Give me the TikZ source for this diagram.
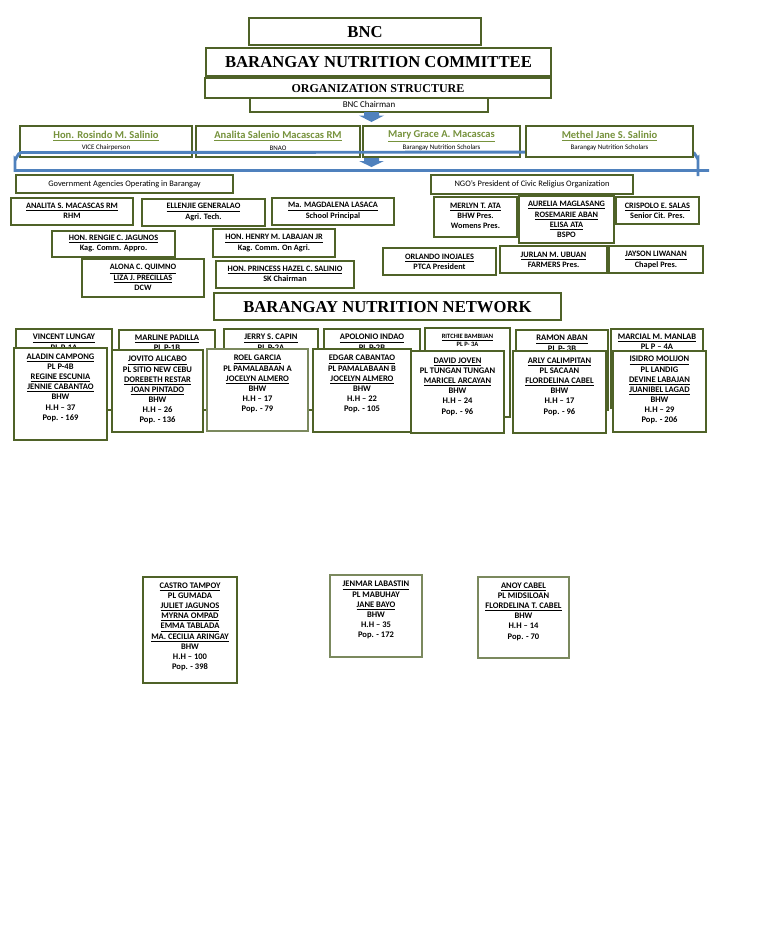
\documentclass[tikz,border=0pt]{standalone}
\usepackage{fontspec}
\setmainfont{Liberation Serif}
\setsansfont{Carlito}
\usepackage{tikz}
\usetikzlibrary{positioning}

\definecolor{boxgreen}{RGB}{79,98,40}
\definecolor{namegreen}{RGB}{118,146,60}
\definecolor{bnsblue}{RGB}{79,129,189}

\tikzset{
  box/.style={draw=boxgreen, line width=1.5pt, fill=white},
  thinbox/.style={draw=boxgreen!75, line width=0.9pt, fill=white},
  title/.style={inner sep=0.75pt, font=\bfseries\fontsize{12.5}{15}\selectfont},
  subtitle/.style={inner sep=0.75pt, font=\bfseries\fontsize{9}{11}\selectfont},
  chairtext/.style={inner sep=0.75pt, font=\sffamily\fontsize{6.7}{8}\selectfont},
  officer/.style={inner sep=0.75pt, text=namegreen, font=\sffamily\bfseries\fontsize{7.9}{9.5}\selectfont},
  role/.style={inner sep=0.75pt, font=\sffamily\fontsize{5.2}{6.2}\selectfont},
  header/.style={inner sep=0.75pt, font=\sffamily\fontsize{6.3}{7.5}\selectfont},
  member/.style={inner sep=0.75pt, align=center, font=\sffamily\bfseries\fontsize{6.2}{7.7}\selectfont},
  purok/.style={inner sep=0.75pt, align=center, anchor=north, font=\sffamily\bfseries\fontsize{6.4}{7.6}\selectfont},
  purokfine/.style={purok, font=\sffamily\bfseries\fontsize{4.9}{6.2}\selectfont},
  bracket/.style={draw=bnsblue, line width=2.2pt},
  blockarrow/.style={fill=bnsblue, draw=none},
}

\begin{document}
\begin{tikzpicture}[x=0.75pt,y=0.75pt,yscale=-1,xscale=1]
\useasboundingbox (0,0) rectangle (768,932);

% BNC Chairman box, behind the titles
\draw[box] (250,77) rectangle (488,112);
\node[chairtext] (chairman) at (369,104) {BNC Chairman};
% Titles
\draw[box] (249,18) rectangle (481,45);
\node[title] (bnc) at (365,32) {BNC};
\draw[box] (206,48) rectangle (551,76);
\node[title] (bnc-title) at (378.5,62.5) {BARANGAY NUTRITION COMMITTEE};
\draw[box] (205,78) rectangle (551,98);
\node[subtitle] (org) at (378,88.5) {ORGANIZATION STRUCTURE};
% Arrow
\fill[blockarrow] (364,112) -- (379,112) -- (379,115.5) -- (384,115.5) -- (371.5,122) -- (359,115.5) -- (364,115.5) -- cycle;

% Officers
\draw[box] (20,126) rectangle (192,157);
\node[officer] (vice) at (106,136) {\underline{Hon. Rosindo M. Salinio}};
\node[role] (vice-r) at (106,148) {VICE Chairperson};
\draw[box] (196,126) rectangle (360,157);
\node[officer] (bnao) at (278,136) {\underline{Analita Salenio Macascas RM}};
\node[role] (bnao-r) at (278,148) {BNAO};
\draw[box] (363,126) rectangle (520,157);
\node[officer] (bns1) at (441.5,136) {\underline{Mary Grace A. Macascas}};
\node[role] (bns1-r) at (441.5,148) {Barangay Nutrition Scholars};
% Bracket
\draw[bracket] (709,170.5) -- (15,170.5) -- (15,159) to[out=90,in=180] (21,152.5) -- (692,152) to[out=0,in=90] (698,158) -- (698,176);
\draw[box] (526,126) rectangle (693,157);
\node[officer] (bns2) at (609.5,136) {\underline{Methel Jane S. Salinio}};
\node[role] (bns2-r) at (609.5,148) {Barangay Nutrition Scholars};
% Arrow
\fill[blockarrow] (364,158) -- (379,158) -- (379,161) -- (384,161) -- (371.5,167) -- (359,161) -- (364,161) -- cycle;

% Headers
\draw[box] (16,175) rectangle (233,193);
\node[header] (gov) at (124.5,184) {Government Agencies Operating in Barangay};
\draw[box] (431,175) rectangle (633,194);
\node[header] (ngo) at (532,184.5) {NGO's President of Civic Religius Organization};

% Government agencies
\draw[box] (11,198) rectangle (133,225);
\node[member] (rhm) at (72,211) {\underline{ANALITA S. MACASCAS RM}\\RHM};
\draw[box] (142,199) rectangle (265,226);
\node[member] (agri) at (203.5,212) {\underline{ELLENJIE GENERALAO}\\Agri. Tech.};
\draw[box] (272,198) rectangle (394,225);
\node[member] (principal) at (333,211) {\underline{Ma. MAGDALENA LASACA}\\School Principal};
\draw[box] (52,231) rectangle (175,257);
\node[member] (appro) at (113.5,243.5) {\underline{HON. RENGIE C. JAGUNOS}\\Kag. Comm. Appro.};
\draw[box] (213,229) rectangle (335,257);
\node[member] (kagagri) at (274,243) {\underline{HON. HENRY M. LABAJAN JR}\\Kag. Comm. On Agri.};
\draw[box] (82,259) rectangle (204,297);
\node[member] (dcw) at (143,277.5) {\underline{ALONA C. QUIMNO}\\\underline{LIZA J. PRECILLAS}\\DCW};
\draw[box] (216,261) rectangle (354,288);
\node[member] (sk) at (285,273.5) {\underline{HON. PRINCESS HAZEL C. SALINIO}\\SK Chairman};

% NGO presidents
\draw[box] (434,197) rectangle (517,237);
\node[member] (bhwpres) at (475.5,216) {\underline{MERLYN T. ATA}\\BHW Pres.\\Womens Pres.};
\draw[box] (519,196) rectangle (614,243);
\node[member] (bspo) at (566.5,219.5) {\underline{AURELIA MAGLASANG}\\\underline{ROSEMARIE ABAN}\\\underline{ELISA ATA}\\BSPO};
\draw[box] (616,197) rectangle (699,224);
\node[member] (senior) at (657.5,211) {\underline{CRISPOLO E. SALAS}\\Senior Cit. Pres.};
\draw[box] (383,248) rectangle (496,275);
\node[member] (ptca) at (439.5,261.5) {\underline{ORLANDO INOJALES}\\PTCA President};
\draw[box] (500,246) rectangle (607,273);
\node[member] (farmers) at (553.5,259.5) {\underline{JURLAN M. UBUAN}\\FARMERS Pres.};
\draw[box] (609,246) rectangle (703,273);
\node[member] (chapel) at (656,260) {\underline{JAYSON LIWANAN}\\Chapel Pres.};

% Network
\draw[box] (214,293) rectangle (561,320);
\node[title] (bnn) at (387.5,307) {BARANGAY NUTRITION NETWORK};

% Purok leaders, back row
\draw[box] (16,329) rectangle (112,410);
\node[purok] (p1a) at (64,333) {\underline{VINCENT LUNGAY}\\PL P-1A};
\draw[box] (119,330) rectangle (215,410);
\node[purok] (p1b) at (167,334) {\underline{MARLINE PADILLA}\\PL P-1B};
\draw[box] (224,329) rectangle (318,410);
\node[purok] (p2a) at (271,333) {\underline{JERRY S. CAPIN}\\PL P-2A};
\draw[box] (324,329) rectangle (420,410);
\node[purok] (p2b) at (372,333) {\underline{APOLONIO INDAO}\\PL P-2B};
\draw[box] (425,328) rectangle (510,417);
\node[purokfine] (p3a) at (467.5,332.5) {\underline{RITCHIE BAMBIJAN}\\PL P- 3A};
\draw[box] (516,330) rectangle (608,410);
\node[purok] (p3b) at (562,334) {\underline{RAMON ABAN}\\PL P- 3B};
\draw[box] (611,329) rectangle (703,408);
\node[purok] (p4a) at (657,332.5) {\underline{MARCIAL M. MANLAB}\\PL P -- 4A};

% Purok leaders, front row
\draw[box] (14,348) rectangle (107,440);
\node[purok] (p4b) at (60.5,352.5) {\underline{ALADIN CAMPONG}\\PL P-4B\\\underline{REGINE ESCUNIA}\\\underline{JENNIE CABANTAO}\\BHW\\H.H -- 37\\Pop. - 169};
\draw[box] (112,350) rectangle (203,432);
\node[purok] (newcebu) at (157.5,355) {\underline{JOVITO ALICABO}\\PL SITIO NEW CEBU\\\underline{DOREBETH RESTAR}\\\underline{JOAN PINTADO}\\BHW\\H.H -- 26\\Pop. - 136};
\draw[thinbox] (207,349) rectangle (308,431);
\node[purok] (pamalabaana) at (257.5,354) {\underline{ROEL GARCIA}\\PL PAMALABAAN A\\\underline{JOCELYN ALMERO}\\BHW\\H.H -- 17\\Pop. - 79};
\draw[box] (313,349) rectangle (411,432);
\node[purok] (pamalabaanb) at (362,354) {\underline{EDGAR CABANTAO}\\PL PAMALABAAN B\\\underline{JOCELYN ALMERO}\\BHW\\H.H -- 22\\Pop. - 105};
\draw[box] (411,351) rectangle (504,433);
\node[purok] (tungan) at (457.5,356.5) {\underline{DAVID JOVEN}\\PL TUNGAN TUNGAN\\\underline{MARICEL ARCAYAN}\\BHW\\H.H -- 24\\Pop. - 96};
\draw[box] (513,351) rectangle (606,433);
\node[purok] (sacaan) at (559.5,356.5) {\underline{ARLY CALIMPITAN}\\PL SACAAN\\\underline{FLORDELINA CABEL}\\BHW\\H.H -- 17\\Pop. - 96};
\draw[box] (613,351) rectangle (706,432);
\node[purok] (landig) at (659.5,355) {\underline{ISIDRO MOLIJON}\\PL LANDIG\\\underline{DEVINE LABAJAN}\\\underline{JUANIBEL LAGAD}\\BHW\\H.H -- 29\\Pop. - 206};

% Purok leaders, lower row
\draw[box] (143,577) rectangle (237,683);
\node[purok] (gumada) at (190,581.5) {\underline{CASTRO TAMPOY}\\PL GUMADA\\\underline{JULIET JAGUNOS}\\\underline{MYRNA OMPAD}\\\underline{EMMA TABLADA}\\\underline{MA. CECILIA ARINGAY}\\BHW\\H.H -- 100\\Pop. - 398};
\draw[thinbox] (330,575) rectangle (422,657);
\node[purok] (mabuhay) at (376,580) {\underline{JENMAR LABASTIN}\\PL MABUHAY\\\underline{JANE BAYO}\\BHW\\H.H -- 35\\Pop. - 172};
\draw[thinbox] (478,577) rectangle (569,658);
\node[purok] (midsiloan) at (523.5,581.5) {\underline{ANOY CABEL}\\PL MIDSILOAN\\\underline{FLORDELINA T. CABEL}\\BHW\\H.H -- 14\\Pop. - 70};

\end{tikzpicture}
\end{document}
